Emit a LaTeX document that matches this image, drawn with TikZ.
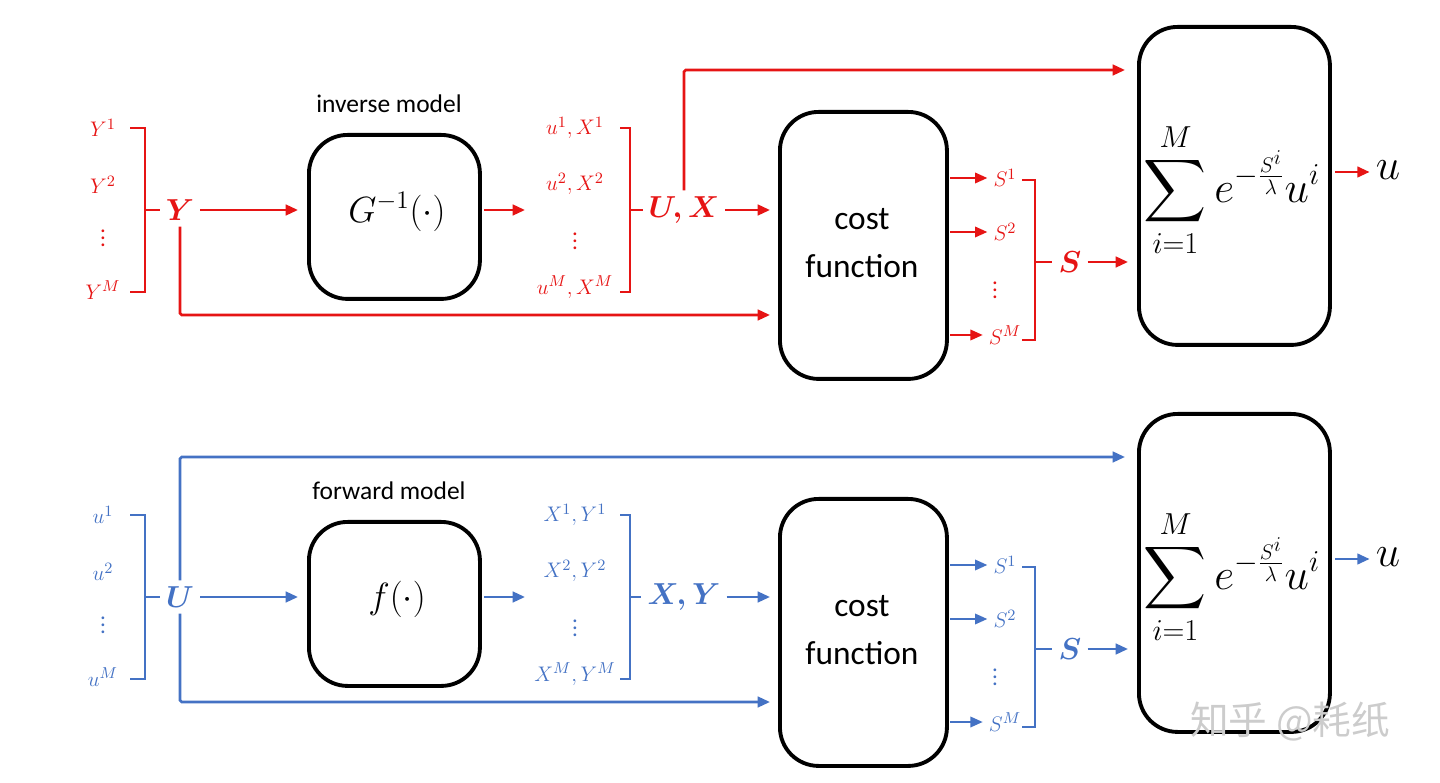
\documentclass[tikz,border=0pt]{standalone}
\usepackage{amsmath}
\usepackage{fontspec}
\setmainfont{Carlito}
\newfontfamily\cjk{Noto Sans CJK SC}
\usetikzlibrary{arrows.meta}
\definecolor{myred}{RGB}{230,20,20}
\definecolor{myblue}{RGB}{68,114,196}
\tikzset{
  blk/.style={draw=black, line width=2.2pt, rounded corners=22pt, anchor=north west},
  sml/.style={font=\fontsize{13}{15}\selectfont},
  big/.style={font=\fontsize{19}{22}\selectfont},
  arr/.style={line width=1.5pt, -{Triangle[length=7pt,width=6pt]}},
  brk/.style={line width=1.5pt}
}
\begin{document}
\begin{tikzpicture}[x=0.02cm, y=-0.02cm]
\useasboundingbox (0,0) rectangle (1440,783);

\foreach \r/\dy/\col/\a/\A/\p/\q/\P/\Q/\mdl/\fn/\up in
  {t/0/myred/Y/Y/u/X/U/X/inverse/G^{-1}/ux, b/387/myblue/u/U/X/Y/X/Y/forward/f/in}{
\begin{scope}[yshift=-\dy*0.02cm, color=\col]
% inputs
\node[sml] (\r-i1) at (103,128) {$\a^1$};
\node[sml] (\r-i2) at (103,185) {$\a^2$};
\node[sml] (\r-i3) at (103,233) {$\vdots$};
\node[sml] (\r-iM) at (103,290) {$\a^M$};
\draw[brk] (130,128) -- (145,128) -- (145,292) -- (130,292);
\node[big] (\r-in) at (180,210) {$\boldsymbol{\A}$};
\draw[brk] (145,210) -- (\r-in.west);

% model
\node[blk, minimum width=171*0.02cm, minimum height=164*0.02cm] (\r-mod) at (307,133) {};
\node[black, font=\fontsize{14.5}{16}\selectfont] (\r-mname) at (389,104) {\mdl\ model};
\node[black, big, font=\fontsize{20}{22}\selectfont] (\r-fn) at (397,212) {$\fn(\cdot)$};
\draw[arr] (\r-in.east) -- (298,210);
\draw[arr] (484,210) -- (525,210);

% samples
\node[sml] (\r-o1) at (575,128) {$\p^1,\q^1$};
\node[sml] (\r-o2) at (575,184) {$\p^2,\q^2$};
\node[sml] (\r-o3) at (575,236) {$\vdots$};
\node[sml] (\r-oM) at (575,287) {$\p^M,\q^M$};
\draw[brk] (620,128) -- (630,128) -- (630,292) -- (620,292);
\node[big] (\r-ux) at (684,210) {$\boldsymbol{\P,\Q}$};
\draw[brk] (630,210) -- (\r-ux.west);

% cost function
\node[blk, minimum width=167*0.02cm, minimum height=267*0.02cm] (\r-cost) at (778,110) {};
\node[black, align=center, font=\fontsize{19}{27}\selectfont] (\r-ctxt) at (862,243) {cost\\function};
\draw[arr] (\r-ux.east) -- (770,210);
\draw[arr, rounded corners=1pt] (\r-in.south) |- (770,315);

% costs
\foreach \k/\y in {1/178, 2/232, M/335}{
  \node[sml] (\r-s\k) at (1005,\y) {$S^{\k}$};
  \draw[arr, line width=1pt] (950,\y) -- (\r-s\k.west);
}
\node[sml] (\r-s3) at (995,285) {$\vdots$};
\draw[brk] (1022,180) -- (1035,180) -- (1035,340) -- (1022,340);
\node[big] (\r-S) at (1070,262) {$\boldsymbol{S}$};
\draw[brk] (1035,262) -- (\r-S.west);

% weighted sum
\node[blk, minimum width=191*0.02cm, minimum height=318*0.02cm] (\r-sum) at (1137,25) {};
\node[black, font=\fontsize{23}{26}\selectfont] (\r-form) at (1232,190)
  {$\displaystyle\sum_{i=1}^{M} e^{-\frac{S^i}{\lambda}}u^i$};
\draw[arr] (\r-S.east) -- (1128,262);
\draw[arr, rounded corners=1pt] (\r-\up.north) |- (1125,70);
\node[black, font=\fontsize{26}{28}\selectfont] (\r-u) at (1388,170) {$u$};
\draw[arr] (1335,172) -- (\r-u.west |- 0,172);
\end{scope}
}

% watermark
\node[gray!40, font=\cjk\fontsize{22}{24}\selectfont] (mark) at (1290,722) {知乎 @耗纸};
\end{tikzpicture}
\end{document}
